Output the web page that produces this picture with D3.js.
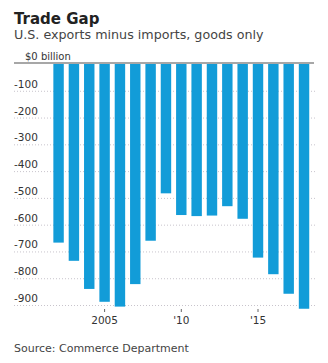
<!DOCTYPE html>
<meta charset="utf-8">
<style>
body { margin: 0; background: #fff; }
text { font-family: "DejaVu Sans", sans-serif; }
.grid line { stroke: #c8c4cc; stroke-dasharray: 1,2; }
</style>
<body>
<script src="https://cdn.jsdelivr.net/npm/d3@7"></script>
<script>

var years = [2002, 2003, 2004, 2005, 2006, 2007, 2008, 2009, 2010, 2011, 2012, 2013, 2014, 2015, 2016, 2017, 2018];
var gap = [-667, -735, -840, -888, -906, -822, -660, -483, -564, -568, -566, -531, -578, -723, -785, -858, -914];
var yTicks = [-100, -200, -300, -400, -500, -600, -700, -800, -900];
var xTicks = [2005, 2010, 2015];
var xTickLabels = ["2005", "'10", "'15"];

var width = 328, height = 363;

var svg = d3.select("body").append("svg")
    .attr("width", width)
    .attr("height", height);

var x = d3.scaleBand()
    .domain(years)
    .range([50.9, 311.7])
    .paddingInner(0.32)
    .paddingOuter(0.16);

var y = d3.scaleLinear()
    .domain([0, -900])
    .range([64, 305]);

// titles
svg.append("text")
    .attr("x", 14).attr("y", 24)
    .style("font-size", "15px")
    .style("font-weight", "bold")
    .style("fill", "#222")
    .text("Trade Gap");

svg.append("text")
    .attr("x", 14).attr("y", 39)
    .style("font-size", "12.7px")
    .style("fill", "#444")
    .text("U.S. exports minus imports, goods only");

// gridlines
svg.append("g")
    .attr("class", "grid")
  .selectAll("line")
    .data(yTicks)
  .enter().append("line")
    .attr("x1", 14).attr("x2", 315)
    .attr("y1", function(d) { return y(d) + 0.5; })
    .attr("y2", function(d) { return y(d) + 0.5; });

svg.append("g")
  .selectAll("text")
    .data(yTicks)
  .enter().append("text")
    .attr("x", 14)
    .attr("y", function(d) { return y(d) - 3; })
    .style("font-size", "10.5px")
    .style("fill", "#333")
    .text(function(d) { return d; });

svg.append("text")
    .attr("x", 25).attr("y", 60)
    .style("font-size", "10px")
    .style("fill", "#333")
    .text("$0 billion");

// bars
svg.append("g")
  .selectAll("rect")
    .data(years)
  .enter().append("rect")
    .attr("x", function(d) { return x(d); })
    .attr("width", x.bandwidth())
    .attr("y", y(0))
    .attr("height", function(d, i) { return y(gap[i]) - y(0); })
    .style("fill", "#129cd8");

// zero line
svg.append("line")
    .attr("x1", 14).attr("x2", 314)
    .attr("y1", y(0) - 1).attr("y2", y(0) - 1)
    .style("stroke", "#8a8a8a")
    .style("stroke-width", 1.5);

// x axis ticks
var xa = svg.append("g");
xa.selectAll("line")
    .data(xTicks)
  .enter().append("line")
    .attr("x1", function(d) { return x(d) + x.bandwidth() / 2; })
    .attr("x2", function(d) { return x(d) + x.bandwidth() / 2; })
    .attr("y1", 309).attr("y2", 312)
    .style("stroke", "#666");

xa.selectAll("text")
    .data(xTicks)
  .enter().append("text")
    .attr("x", function(d) { return x(d) + x.bandwidth() / 2; })
    .attr("y", 324)
    .attr("text-anchor", "middle")
    .style("font-size", "10.5px")
    .style("fill", "#333")
    .text(function(d, i) { return xTickLabels[i]; });

svg.append("text")
    .attr("x", 14).attr("y", 352)
    .style("font-size", "11px")
    .style("fill", "#444")
    .text("Source: Commerce Department");

</script>
</body>
